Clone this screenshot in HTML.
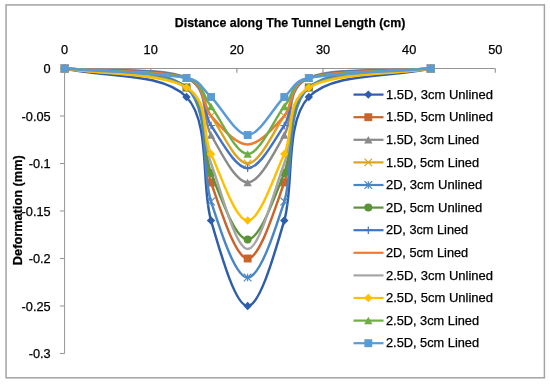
<!DOCTYPE html>
<html><head><meta charset="utf-8"><title>Chart</title>
<style>html,body{margin:0;padding:0;background:#fff}svg{display:block}text{stroke:#000;stroke-width:.25px}</style></head>
<body>
<svg width="550" height="384" viewBox="0 0 550 384" font-family="'Liberation Sans', sans-serif" fill="#000">
<rect x="0" y="0" width="550" height="384" fill="#fff"/>
<rect x="6.05" y="4.9" width="538.35" height="372.9" fill="none" stroke="#A3A3A3" stroke-width="1.5"/>
<path d="M64.6 68.5 V353.5 M64.6 68.5 H495.3" stroke="#949494" stroke-width="1" fill="none"/>
<path d="M60 68.50 H64.6 M60 116.00 H64.6 M60 163.50 H64.6 M60 211.00 H64.6 M60 258.50 H64.6 M60 306.00 H64.6 M60 353.50 H64.6 M64.60 68.5 V72.8 M150.74 68.5 V72.8 M236.88 68.5 V72.8 M323.02 68.5 V72.8 M409.16 68.5 V72.8 M495.30 68.5 V72.8 " stroke="#949494" stroke-width="1.15" fill="none"/>
<text x="64.60" y="54.00" font-size="12.40" text-anchor="middle" textLength="7.1" lengthAdjust="spacingAndGlyphs">0</text>
<text x="150.74" y="54.00" font-size="12.40" text-anchor="middle" textLength="14.2" lengthAdjust="spacingAndGlyphs">10</text>
<text x="236.88" y="54.00" font-size="12.40" text-anchor="middle" textLength="14.2" lengthAdjust="spacingAndGlyphs">20</text>
<text x="323.02" y="54.00" font-size="12.40" text-anchor="middle" textLength="14.2" lengthAdjust="spacingAndGlyphs">30</text>
<text x="409.16" y="54.00" font-size="12.40" text-anchor="middle" textLength="14.2" lengthAdjust="spacingAndGlyphs">40</text>
<text x="495.30" y="54.00" font-size="12.40" text-anchor="middle" textLength="14.2" lengthAdjust="spacingAndGlyphs">50</text>
<text x="50.70" y="73.20" font-size="12.40" text-anchor="end" textLength="7.1" lengthAdjust="spacingAndGlyphs">0</text>
<text x="50.70" y="120.70" font-size="12.40" text-anchor="end" textLength="29.1" lengthAdjust="spacingAndGlyphs">-0.05</text>
<text x="50.70" y="168.20" font-size="12.40" text-anchor="end" textLength="22.0" lengthAdjust="spacingAndGlyphs">-0.1</text>
<text x="50.70" y="215.70" font-size="12.40" text-anchor="end" textLength="29.1" lengthAdjust="spacingAndGlyphs">-0.15</text>
<text x="50.70" y="263.20" font-size="12.40" text-anchor="end" textLength="22.0" lengthAdjust="spacingAndGlyphs">-0.2</text>
<text x="50.70" y="310.70" font-size="12.40" text-anchor="end" textLength="29.1" lengthAdjust="spacingAndGlyphs">-0.25</text>
<text x="50.70" y="358.20" font-size="12.40" text-anchor="end" textLength="22.0" lengthAdjust="spacingAndGlyphs">-0.3</text>
<text x="174.80" y="27.40" font-size="13.20" textLength="230.5" lengthAdjust="spacingAndGlyphs" font-weight="bold">Distance along The Tunnel Length (cm)</text>
<g transform="translate(21.9 265.2) rotate(-90)"><text x="0.00" y="0.00" font-size="13.20" textLength="110.0" lengthAdjust="spacingAndGlyphs" font-weight="bold">Deformation (mm)</text></g>
<path d="M64.60 68.50 C105.23 78.00 162.08 71.67 186.49 97.00 C210.89 122.33 200.84 185.67 211.04 220.50 C221.23 255.33 235.44 306.00 247.65 306.00 C259.85 306.00 274.06 255.33 284.26 220.50 C294.45 185.67 284.40 122.33 308.81 97.00 C333.21 71.67 390.07 78.00 430.70 68.50" stroke="#2F5DA9" stroke-width="2.45" fill="none" stroke-linecap="round" stroke-linejoin="round"/>
<path d="M64.60 64.30 L68.80 68.50 L64.60 72.70 L60.40 68.50Z" fill="#2F5DA9"/>
<path d="M186.49 92.80 L190.69 97.00 L186.49 101.20 L182.29 97.00Z" fill="#2F5DA9"/>
<path d="M211.04 216.30 L215.24 220.50 L211.04 224.70 L206.84 220.50Z" fill="#2F5DA9"/>
<path d="M247.65 301.80 L251.85 306.00 L247.65 310.20 L243.45 306.00Z" fill="#2F5DA9"/>
<path d="M284.26 216.30 L288.46 220.50 L284.26 224.70 L280.06 220.50Z" fill="#2F5DA9"/>
<path d="M308.81 92.80 L313.01 97.00 L308.81 101.20 L304.61 97.00Z" fill="#2F5DA9"/>
<path d="M430.70 64.30 L434.90 68.50 L430.70 72.70 L426.50 68.50Z" fill="#2F5DA9"/>
<path d="M64.60 68.50 C105.23 74.83 162.08 68.50 186.49 87.50 C210.89 106.50 200.84 154.00 211.04 182.50 C221.23 211.00 235.44 258.50 247.65 258.50 C259.85 258.50 274.06 211.00 284.26 182.50 C294.45 154.00 284.40 106.50 308.81 87.50 C333.21 68.50 390.07 74.83 430.70 68.50" stroke="#C9642B" stroke-width="2.45" fill="none" stroke-linecap="round" stroke-linejoin="round"/>
<rect x="60.65" y="64.55" width="7.90" height="7.90" fill="#C9642B"/>
<rect x="182.54" y="83.55" width="7.90" height="7.90" fill="#C9642B"/>
<rect x="207.09" y="178.55" width="7.90" height="7.90" fill="#C9642B"/>
<rect x="243.70" y="254.55" width="7.90" height="7.90" fill="#C9642B"/>
<rect x="280.31" y="178.55" width="7.90" height="7.90" fill="#C9642B"/>
<rect x="304.86" y="83.55" width="7.90" height="7.90" fill="#C9642B"/>
<rect x="426.75" y="64.55" width="7.90" height="7.90" fill="#C9642B"/>
<path d="M64.60 68.50 C105.23 71.67 162.08 66.92 186.49 78.00 C210.89 89.08 200.84 117.58 211.04 135.00 C221.23 152.42 235.44 182.50 247.65 182.50 C259.85 182.50 274.06 152.42 284.26 135.00 C294.45 117.58 284.40 89.08 308.81 78.00 C333.21 66.92 390.07 71.67 430.70 68.50" stroke="#8A8A8A" stroke-width="2.45" fill="none" stroke-linecap="round" stroke-linejoin="round"/>
<path d="M64.60 64.70 L68.80 72.20 L60.40 72.20Z" fill="#8A8A8A"/>
<path d="M186.49 74.20 L190.69 81.70 L182.29 81.70Z" fill="#8A8A8A"/>
<path d="M211.04 131.20 L215.24 138.70 L206.84 138.70Z" fill="#8A8A8A"/>
<path d="M247.65 178.70 L251.85 186.20 L243.45 186.20Z" fill="#8A8A8A"/>
<path d="M284.26 131.20 L288.46 138.70 L280.06 138.70Z" fill="#8A8A8A"/>
<path d="M308.81 74.20 L313.01 81.70 L304.61 81.70Z" fill="#8A8A8A"/>
<path d="M430.70 64.70 L434.90 72.20 L426.50 72.20Z" fill="#8A8A8A"/>
<path d="M64.60 68.50 C105.23 71.67 162.08 70.08 186.49 78.00 C208.00 84.98 200.84 101.75 211.04 116.00 C221.23 130.25 235.44 163.50 247.65 163.50 C259.85 163.50 274.06 130.25 284.26 116.00 C294.45 101.75 287.29 84.98 308.81 78.00 C333.21 70.08 390.07 71.67 430.70 68.50" stroke="#DBA51E" stroke-width="2.45" fill="none" stroke-linecap="round" stroke-linejoin="round"/>
<path d="M60.80 64.70 L68.40 72.30 M60.80 72.30 L68.40 64.70" stroke="#DBA51E" stroke-width="1.2" fill="none"/>
<path d="M182.69 74.20 L190.29 81.80 M182.69 81.80 L190.29 74.20" stroke="#DBA51E" stroke-width="1.2" fill="none"/>
<path d="M207.24 112.20 L214.84 119.80 M207.24 119.80 L214.84 112.20" stroke="#DBA51E" stroke-width="1.2" fill="none"/>
<path d="M243.85 159.70 L251.45 167.30 M243.85 167.30 L251.45 159.70" stroke="#DBA51E" stroke-width="1.2" fill="none"/>
<path d="M280.46 112.20 L288.06 119.80 M280.46 119.80 L288.06 112.20" stroke="#DBA51E" stroke-width="1.2" fill="none"/>
<path d="M305.01 74.20 L312.61 81.80 M305.01 81.80 L312.61 74.20" stroke="#DBA51E" stroke-width="1.2" fill="none"/>
<path d="M426.90 64.70 L434.50 72.30 M426.90 72.30 L434.50 64.70" stroke="#DBA51E" stroke-width="1.2" fill="none"/>
<path d="M64.60 68.50 C105.23 74.83 162.08 65.33 186.49 87.50 C210.89 109.67 200.84 169.83 211.04 201.50 C221.23 233.17 235.44 277.50 247.65 277.50 C259.85 277.50 274.06 233.17 284.26 201.50 C294.45 169.83 284.40 109.67 308.81 87.50 C333.21 65.33 390.07 74.83 430.70 68.50" stroke="#4A87C2" stroke-width="2.45" fill="none" stroke-linecap="round" stroke-linejoin="round"/>
<path d="M60.80 64.70 L68.40 72.30 M60.80 72.30 L68.40 64.70 M64.60 64.70 L64.60 72.30" stroke="#4A87C2" stroke-width="1.2" fill="none"/>
<path d="M182.69 83.70 L190.29 91.30 M182.69 91.30 L190.29 83.70 M186.49 83.70 L186.49 91.30" stroke="#4A87C2" stroke-width="1.2" fill="none"/>
<path d="M207.24 197.70 L214.84 205.30 M207.24 205.30 L214.84 197.70 M211.04 197.70 L211.04 205.30" stroke="#4A87C2" stroke-width="1.2" fill="none"/>
<path d="M243.85 273.70 L251.45 281.30 M243.85 281.30 L251.45 273.70 M247.65 273.70 L247.65 281.30" stroke="#4A87C2" stroke-width="1.2" fill="none"/>
<path d="M280.46 197.70 L288.06 205.30 M280.46 205.30 L288.06 197.70 M284.26 197.70 L284.26 205.30" stroke="#4A87C2" stroke-width="1.2" fill="none"/>
<path d="M305.01 83.70 L312.61 91.30 M305.01 91.30 L312.61 83.70 M308.81 83.70 L308.81 91.30" stroke="#4A87C2" stroke-width="1.2" fill="none"/>
<path d="M426.90 64.70 L434.50 72.30 M426.90 72.30 L434.50 64.70 M430.70 64.70 L430.70 72.30" stroke="#4A87C2" stroke-width="1.2" fill="none"/>
<path d="M64.60 68.50 C105.23 74.83 162.08 70.08 186.49 87.50 C210.89 104.92 200.84 147.67 211.04 173.00 C221.23 198.33 235.44 239.50 247.65 239.50 C259.85 239.50 274.06 198.33 284.26 173.00 C294.45 147.67 284.40 104.92 308.81 87.50 C333.21 70.08 390.07 74.83 430.70 68.50" stroke="#5B9338" stroke-width="2.45" fill="none" stroke-linecap="round" stroke-linejoin="round"/>
<circle cx="64.60" cy="68.50" r="4.0" fill="#5B9338"/>
<circle cx="186.49" cy="87.50" r="4.0" fill="#5B9338"/>
<circle cx="211.04" cy="173.00" r="4.0" fill="#5B9338"/>
<circle cx="247.65" cy="239.50" r="4.0" fill="#5B9338"/>
<circle cx="284.26" cy="173.00" r="4.0" fill="#5B9338"/>
<circle cx="308.81" cy="87.50" r="4.0" fill="#5B9338"/>
<circle cx="430.70" cy="68.50" r="4.0" fill="#5B9338"/>
<path d="M64.60 68.50 C105.23 71.67 162.08 68.50 186.49 78.00 C210.89 87.50 200.84 110.46 211.04 125.50 C221.23 140.54 235.44 168.25 247.65 168.25 C259.85 168.25 274.06 140.54 284.26 125.50 C294.45 110.46 284.40 87.50 308.81 78.00 C333.21 68.50 390.07 71.67 430.70 68.50" stroke="#4472C4" stroke-width="2.45" fill="none" stroke-linecap="round" stroke-linejoin="round"/>
<path d="M60.80 68.50 L68.40 68.50 M64.60 64.70 L64.60 72.30" stroke="#4472C4" stroke-width="1.2" fill="none"/>
<path d="M182.69 78.00 L190.29 78.00 M186.49 74.20 L186.49 81.80" stroke="#4472C4" stroke-width="1.2" fill="none"/>
<path d="M207.24 125.50 L214.84 125.50 M211.04 121.70 L211.04 129.30" stroke="#4472C4" stroke-width="1.2" fill="none"/>
<path d="M243.85 168.25 L251.45 168.25 M247.65 164.45 L247.65 172.05" stroke="#4472C4" stroke-width="1.2" fill="none"/>
<path d="M280.46 125.50 L288.06 125.50 M284.26 121.70 L284.26 129.30" stroke="#4472C4" stroke-width="1.2" fill="none"/>
<path d="M305.01 78.00 L312.61 78.00 M308.81 74.20 L308.81 81.80" stroke="#4472C4" stroke-width="1.2" fill="none"/>
<path d="M426.90 68.50 L434.50 68.50 M430.70 64.70 L430.70 72.30" stroke="#4472C4" stroke-width="1.2" fill="none"/>
<path d="M64.60 68.50 C105.23 71.67 162.08 70.08 186.49 78.00 C208.00 84.98 200.84 104.92 211.04 116.00 C221.23 127.08 235.44 144.50 247.65 144.50 C259.85 144.50 274.06 127.08 284.26 116.00 C294.45 104.92 287.29 84.98 308.81 78.00 C333.21 70.08 390.07 71.67 430.70 68.50" stroke="#ED7D31" stroke-width="2.45" fill="none" stroke-linecap="round" stroke-linejoin="round"/>







<path d="M64.60 68.50 C105.23 74.83 162.08 71.67 186.49 87.50 C210.89 103.33 200.84 136.58 211.04 163.50 C221.23 190.42 235.44 249.00 247.65 249.00 C259.85 249.00 274.06 190.42 284.26 163.50 C294.45 136.58 284.40 103.33 308.81 87.50 C333.21 71.67 390.07 74.83 430.70 68.50" stroke="#A5A5A5" stroke-width="2.45" fill="none" stroke-linecap="round" stroke-linejoin="round"/>







<path d="M64.60 68.50 C105.23 74.83 162.08 73.25 186.49 87.50 C210.89 101.75 200.84 131.83 211.04 154.00 C221.23 176.17 235.44 220.50 247.65 220.50 C259.85 220.50 274.06 176.17 284.26 154.00 C294.45 131.83 284.40 101.75 308.81 87.50 C333.21 73.25 390.07 74.83 430.70 68.50" stroke="#FFC000" stroke-width="2.45" fill="none" stroke-linecap="round" stroke-linejoin="round"/>
<path d="M64.60 64.30 L68.80 68.50 L64.60 72.70 L60.40 68.50Z" fill="#FFC000"/>
<path d="M186.49 83.30 L190.69 87.50 L186.49 91.70 L182.29 87.50Z" fill="#FFC000"/>
<path d="M211.04 149.80 L215.24 154.00 L211.04 158.20 L206.84 154.00Z" fill="#FFC000"/>
<path d="M247.65 216.30 L251.85 220.50 L247.65 224.70 L243.45 220.50Z" fill="#FFC000"/>
<path d="M284.26 149.80 L288.46 154.00 L284.26 158.20 L280.06 154.00Z" fill="#FFC000"/>
<path d="M308.81 83.30 L313.01 87.50 L308.81 91.70 L304.61 87.50Z" fill="#FFC000"/>
<path d="M430.70 64.30 L434.90 68.50 L430.70 72.70 L426.50 68.50Z" fill="#FFC000"/>
<path d="M64.60 68.50 C105.23 71.67 162.08 71.67 186.49 78.00 C204.69 82.72 200.84 93.83 211.04 106.50 C221.23 119.17 235.44 154.00 247.65 154.00 C259.85 154.00 274.06 119.17 284.26 106.50 C294.45 93.83 290.60 82.72 308.81 78.00 C333.21 71.67 390.07 71.67 430.70 68.50" stroke="#70AD47" stroke-width="2.45" fill="none" stroke-linecap="round" stroke-linejoin="round"/>
<path d="M64.60 64.70 L68.80 72.20 L60.40 72.20Z" fill="#70AD47"/>
<path d="M186.49 74.20 L190.69 81.70 L182.29 81.70Z" fill="#70AD47"/>
<path d="M211.04 102.70 L215.24 110.20 L206.84 110.20Z" fill="#70AD47"/>
<path d="M247.65 150.20 L251.85 157.70 L243.45 157.70Z" fill="#70AD47"/>
<path d="M284.26 102.70 L288.46 110.20 L280.06 110.20Z" fill="#70AD47"/>
<path d="M308.81 74.20 L313.01 81.70 L304.61 81.70Z" fill="#70AD47"/>
<path d="M430.70 64.70 L434.90 72.20 L426.50 72.20Z" fill="#70AD47"/>
<path d="M64.60 68.50 C105.23 71.67 162.08 73.25 186.49 78.00 C201.72 80.97 200.84 87.50 211.04 97.00 C221.23 106.50 235.44 135.00 247.65 135.00 C259.85 135.00 274.06 106.50 284.26 97.00 C294.45 87.50 293.57 80.97 308.81 78.00 C333.21 73.25 390.07 71.67 430.70 68.50" stroke="#5B9BD5" stroke-width="2.45" fill="none" stroke-linecap="round" stroke-linejoin="round"/>
<rect x="60.65" y="64.55" width="7.90" height="7.90" fill="#5B9BD5"/>
<rect x="182.54" y="74.05" width="7.90" height="7.90" fill="#5B9BD5"/>
<rect x="207.09" y="93.05" width="7.90" height="7.90" fill="#5B9BD5"/>
<rect x="243.70" y="131.05" width="7.90" height="7.90" fill="#5B9BD5"/>
<rect x="280.31" y="93.05" width="7.90" height="7.90" fill="#5B9BD5"/>
<rect x="304.86" y="74.05" width="7.90" height="7.90" fill="#5B9BD5"/>
<rect x="426.75" y="64.55" width="7.90" height="7.90" fill="#5B9BD5"/>
<path d="M353.5 94.60 H383.5" stroke="#2F5DA9" stroke-width="2.20"/>
<path d="M368.30 90.40 L372.50 94.60 L368.30 98.80 L364.10 94.60Z" fill="#2F5DA9"/>
<text x="386.00" y="98.70" font-size="12.40" textLength="107.0" lengthAdjust="spacingAndGlyphs">1.5D, 3cm Unlined</text>
<path d="M353.5 117.20 H383.5" stroke="#C9642B" stroke-width="2.20"/>
<rect x="364.35" y="113.25" width="7.90" height="7.90" fill="#C9642B"/>
<text x="386.00" y="121.30" font-size="12.40" textLength="107.0" lengthAdjust="spacingAndGlyphs">1.5D, 5cm Unlined</text>
<path d="M353.5 139.80 H383.5" stroke="#8A8A8A" stroke-width="2.20"/>
<path d="M368.30 136.00 L372.50 143.50 L364.10 143.50Z" fill="#8A8A8A"/>
<text x="386.00" y="143.90" font-size="12.40" textLength="93.1" lengthAdjust="spacingAndGlyphs">1.5D, 3cm Lined</text>
<path d="M353.5 162.40 H383.5" stroke="#DBA51E" stroke-width="2.20"/>
<path d="M364.50 158.60 L372.10 166.20 M364.50 166.20 L372.10 158.60" stroke="#DBA51E" stroke-width="1.2" fill="none"/>
<text x="386.00" y="166.50" font-size="12.40" textLength="93.1" lengthAdjust="spacingAndGlyphs">1.5D, 5cm Lined</text>
<path d="M353.5 185.00 H383.5" stroke="#4A87C2" stroke-width="2.20"/>
<path d="M364.50 181.20 L372.10 188.80 M364.50 188.80 L372.10 181.20 M368.30 181.20 L368.30 188.80" stroke="#4A87C2" stroke-width="1.2" fill="none"/>
<text x="386.00" y="189.10" font-size="12.40" textLength="96.2" lengthAdjust="spacingAndGlyphs">2D, 3cm Unlined</text>
<path d="M353.5 207.60 H383.5" stroke="#5B9338" stroke-width="2.20"/>
<circle cx="368.30" cy="207.60" r="4.0" fill="#5B9338"/>
<text x="386.00" y="211.70" font-size="12.40" textLength="96.2" lengthAdjust="spacingAndGlyphs">2D, 5cm Unlined</text>
<path d="M353.5 230.20 H383.5" stroke="#4472C4" stroke-width="2.20"/>
<path d="M364.50 230.20 L372.10 230.20 M368.30 226.40 L368.30 234.00" stroke="#4472C4" stroke-width="1.2" fill="none"/>
<text x="386.00" y="234.30" font-size="12.40" textLength="82.2" lengthAdjust="spacingAndGlyphs">2D, 3cm Lined</text>
<path d="M353.5 252.80 H383.5" stroke="#ED7D31" stroke-width="2.20"/>

<text x="386.00" y="256.90" font-size="12.40" textLength="82.2" lengthAdjust="spacingAndGlyphs">2D, 5cm Lined</text>
<path d="M353.5 275.40 H383.5" stroke="#A5A5A5" stroke-width="2.20"/>

<text x="386.00" y="279.50" font-size="12.40" textLength="107.0" lengthAdjust="spacingAndGlyphs">2.5D, 3cm Unlined</text>
<path d="M353.5 298.00 H383.5" stroke="#FFC000" stroke-width="2.20"/>
<path d="M368.30 293.80 L372.50 298.00 L368.30 302.20 L364.10 298.00Z" fill="#FFC000"/>
<text x="386.00" y="302.10" font-size="12.40" textLength="107.0" lengthAdjust="spacingAndGlyphs">2.5D, 5cm Unlined</text>
<path d="M353.5 320.60 H383.5" stroke="#70AD47" stroke-width="2.20"/>
<path d="M368.30 316.80 L372.50 324.30 L364.10 324.30Z" fill="#70AD47"/>
<text x="386.00" y="324.70" font-size="12.40" textLength="93.1" lengthAdjust="spacingAndGlyphs">2.5D, 3cm Lined</text>
<path d="M353.5 343.20 H383.5" stroke="#5B9BD5" stroke-width="2.20"/>
<rect x="364.35" y="339.25" width="7.90" height="7.90" fill="#5B9BD5"/>
<text x="386.00" y="347.30" font-size="12.40" textLength="93.1" lengthAdjust="spacingAndGlyphs">2.5D, 5cm Lined</text>
</svg>
</body></html>
